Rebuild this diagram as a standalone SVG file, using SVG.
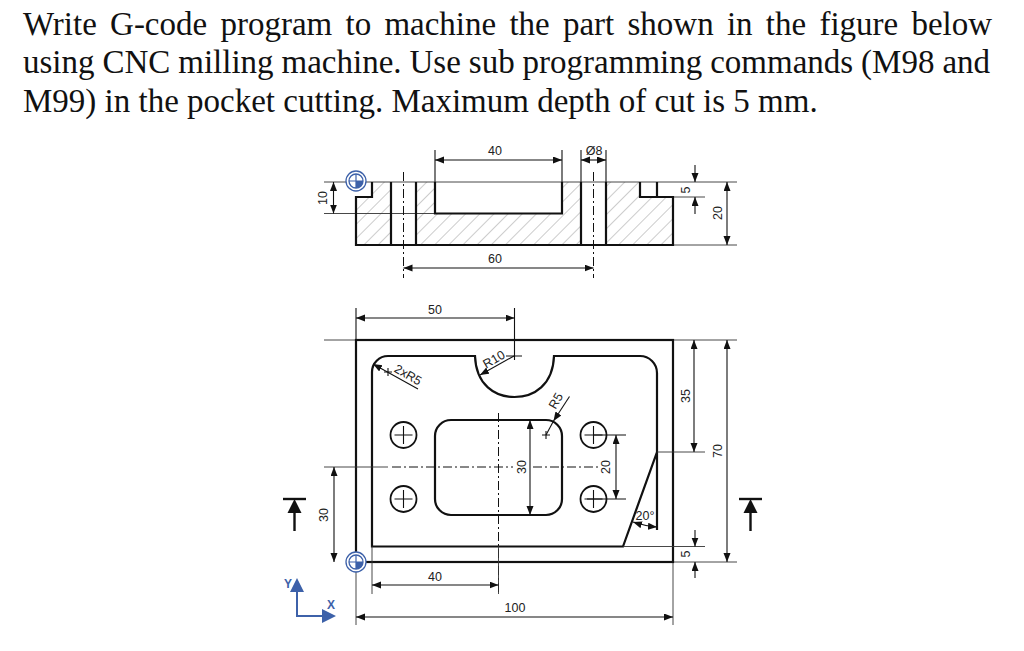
<svg xmlns="http://www.w3.org/2000/svg" width="1024" height="651" viewBox="0 0 1024 651">
<style>
.q{font-family:"Liberation Serif","Times New Roman",serif;font-size:33px;fill:#111}
.d{font-family:"Liberation Sans",Arial,sans-serif;font-size:12.500px;fill:#222;text-anchor:middle;dominant-baseline:central}
.t{fill:none;stroke:#111;stroke-width:2.2}
.m{fill:none;stroke:#111;stroke-width:1.1}
.e{fill:none;stroke:#333;stroke-width:.9}
.c{fill:none;stroke:#111;stroke-width:1;stroke-dasharray:9 3 2 3}
.a{fill:none;stroke:#111;stroke-width:1.1;marker-start:url(#ar);marker-end:url(#ar)}
.b{fill:none;stroke:#111;stroke-width:1.1;marker-end:url(#ar)}
.ax{font-family:"Liberation Sans",Arial,sans-serif;font-size:12px;font-weight:bold;fill:#3d61a9;text-anchor:middle;dominant-baseline:central}
</style>
<defs>
<marker id="ar" markerUnits="userSpaceOnUse" markerWidth="10" markerHeight="8" refX="9" refY="3.500" orient="auto-start-reverse"><path d="M0 0L9 3.500L0 7Z" fill="#111"/></marker>
<pattern id="h" patternUnits="userSpaceOnUse" width="10" height="10" patternTransform="rotate(45)"><path d="M0 0V10" stroke="#999" stroke-width="1"/></pattern>
<g id="datum"><circle r="10" fill="#fff" stroke="#3d61a9" stroke-width="1.300"/><circle r="7" fill="#fff" stroke="#3d61a9" stroke-width="1.300"/><path d="M0 0H7A7 7 0 0 1 0 7Z" fill="#3d61a9"/><path d="M-7 0H7M0-7V7" stroke="#3d61a9" stroke-width="1.200"/></g>
<g id="hole"><circle r="13" fill="#fff" stroke="#111" stroke-width="1.800"/><path d="M-9 0H9M0-9V9" stroke="#111" stroke-width="1.100"/></g>
<g id="sec"><path d="M-11.500 0H11.500" stroke="#111" stroke-width="2.400"/><path d="M0 0L7 14H-7Z" fill="#111"/><path d="M0 12V32" stroke="#111" stroke-width="2.400"/></g>
</defs>
<rect width="1024" height="651" fill="#fff"/>
<g id="question">
<text class="q" x="23" y="35" word-spacing="5">Write G-code program to machine the part shown in the figure below</text>
<text class="q" x="23" y="73" word-spacing="-0.300">using CNC milling machine. Use sub programming commands (M98 and</text>
<text class="q" x="23" y="112">M99) in the pocket cutting. Maximum depth of cut is 5 mm.</text>
</g>
<g id="section-view">
<path d="M356 245V197H372V182H435V213.500H562V182H640V197H657V182V197H673V245Z" fill="url(#h)"/>
<rect x="391" y="182" width="25" height="63" fill="#fff"/><rect x="581" y="182" width="25" height="63" fill="#fff"/>
<rect x="640" y="182" width="17" height="15" fill="#fff"/>
<path class="e" d="M324 182H737M324 213.500H435M673 245H737M673 197H705"/>
<path class="t" d="M372 182V197H356V245H673V197H657V182M657 197H640V182M435 182V213.500H562V182M391 182V245M416 182V245M581 182V245M606 182V245"/>
<path class="c" d="M403.500 172V278M593.500 172V278"/>
</g>
<g id="plan-view">
<path class="e" d="M324 340H737M356 562H737M356 562V625M673 562V625"/>
<rect class="t" x="356" y="340" width="317" height="222"/>
<path class="t" d="M372 372A16 16 0 0 1 388 356H475C476 385 495 397 514.500 397C534 397 553 385 554 356H640A17 17 0 0 1 657 373V452L623 546.500H372ZM657 452V530"/>
<rect class="t" x="435" y="420" width="127" height="95" rx="16" ry="16"/>
<use href="#hole" x="403.500" y="435"/><use href="#hole" x="403.500" y="499"/><use href="#hole" x="593.500" y="435"/><use href="#hole" x="593.500" y="499"/>
</g>
<g id="connectors">
<path class="e" d="M324 467H388M623 546.500H705M657 452H705"/>
<path class="c" d="M392 467H513M533 467H600M498.500 413V594"/>
<path class="e" d="M372 546.500V594M498.500 546V594"/>
<path class="m" d="M435 150V182M562 150V182M581 150V182M606 150V182M514.500 308V356M356 308V340M593 435H626M587 499H626M506 356H522M514.500 352V360M384 372H392M388 368V376M542 435H550M546 431V439"/>
<path class="a" d="M435 160H562"/><path class="a" d="M581 160H606"/>
<path class="a" d="M403.500 268H593.500"/><path class="a" d="M333.500 182V213.500"/><path class="a" d="M727 182V245"/>
<path class="b" d="M695 165V182"/><path class="b" d="M695 214V197"/>
<path class="a" d="M356 318H514.500"/><path class="b" d="M514 356L480 375"/><path class="b" d="M418 389L373 364"/><path class="b" d="M569.500 396.500L553.500 421"/><path class="m" d="M553.500 421L546 435"/>
<path class="a" d="M530 420V515"/><path class="a" d="M616 435V499"/><path class="a" d="M694 340V452"/><path class="a" d="M727 340V562"/>
<path class="b" d="M695 530V546.500"/><path class="b" d="M695 578V562"/><path class="a" d="M334 467V562"/><path class="a" d="M372 585H498.500"/><path class="a" d="M356 617H673"/><path d="M633 522Q645 526 657 527" class="a"/>
</g>
<g id="labels">
<text class="d" x="495" y="151">40</text>
<text class="d" x="594" y="151">Ø8</text>
<text class="d" x="495" y="259">60</text>
<text class="d" transform="translate(323 198) rotate(-90)">10</text>
<text class="d" transform="translate(686 190) rotate(-90)">5</text>
<text class="d" transform="translate(718 213) rotate(-90)">20</text>
<text class="d" x="435" y="310">50</text>
<text class="d" transform="translate(494 359.500) rotate(-30)">R10</text>
<text class="d" transform="translate(408 375) rotate(30)">2xR5</text>
<text class="d" transform="translate(556 401) rotate(-60)">R5</text>
<text class="d" transform="translate(521.500 467) rotate(-90)">30</text>
<text class="d" transform="translate(606 467) rotate(-90)">20</text>
<text class="d" transform="translate(686 396) rotate(-90)">35</text>
<text class="d" transform="translate(718 451) rotate(-90)">70</text>
<text class="d" transform="translate(686 554) rotate(-90)">5</text>
<text class="d" transform="translate(324 515) rotate(-90)">30</text>
<text class="d" x="645" y="516">20°</text>
<text class="d" x="435" y="577">40</text>
<text class="d" x="515" y="608">100</text>
</g>
<g id="markers">
<use href="#sec" x="294.500" y="499"/><use href="#sec" x="750.500" y="499"/>
<use href="#datum" x="356" y="181"/><use href="#datum" x="356" y="562"/>
</g>
<g id="axes">
<path d="M297 590V616H325" fill="none" stroke="#3d61a9" stroke-width="2"/>
<path d="M297 578L304 592H290ZM336 616L322 609V623Z" fill="#3d61a9"/>
<text class="ax" x="288" y="584">Y</text>
<text class="ax" x="331" y="605">X</text>
</g>
</svg>
